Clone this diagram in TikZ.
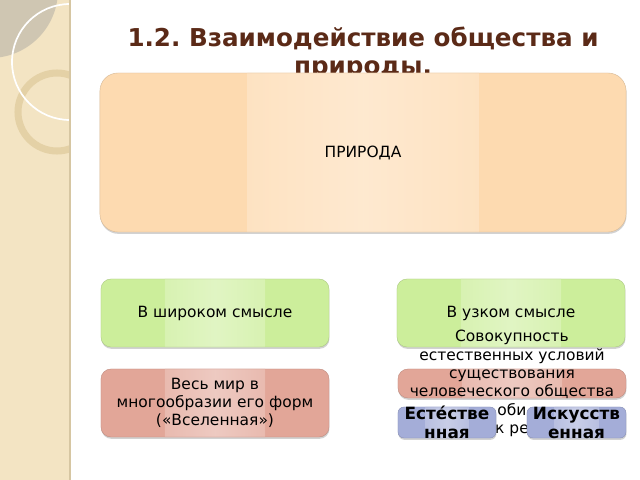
\documentclass[tikz,border=0pt]{standalone}
\usepackage{fontspec}
\setmainfont{DejaVu Sans}
\usetikzlibrary{shadows,calc}

\definecolor{stripc}{HTML}{F3E4C3}
\definecolor{striplc}{HTML}{D6C6A2}
\definecolor{greyc}{HTML}{CFC6B2}
\definecolor{ringc}{HTML}{E4D1A6}
\definecolor{titlec}{HTML}{5B2A17}
\definecolor{peachc}{HTML}{FDDAB0}
\definecolor{greenc}{HTML}{CCEE9B}
\definecolor{redc}{HTML}{E2A698}
\definecolor{bluec}{HTML}{A4ADD8}

\begin{document}
\frenchspacing
\begin{tikzpicture}[x=0.025cm, y=-0.025cm,
    box/.style={draw=#1!85!black, line width=0.3pt, fill=#1,
      rounded corners=0.25cm, minimum width=5.7cm, minimum height=1.7cm,
      inner sep=0pt, font=\fontsize{11}{13}\selectfont, align=center,
      drop shadow={shadow xshift=0.3pt, shadow yshift=-1.3pt, opacity=0.35},
      path picture={\shade[sharp corners, left color=#1, right color=#1, middle color=#1!60!white]
        ($(path picture bounding box.south west)!0.28!(path picture bounding box.south east)$)
        rectangle ($(path picture bounding box.north west)!0.72!(path picture bounding box.north east)$);}},
    boxtext/.style={font=\fontsize{11}{13}\selectfont, align=center, inner sep=0pt},
  ]
  \useasboundingbox (0,0) rectangle (640,480);
  \fill[white] (0,0) rectangle (640,480);

  % side strip
  \fill[stripc] (0,0) rectangle (70,480);
  \begin{scope}
    \clip (0,0) rectangle (70,480);
    \fill[greyc] (-10,-10) circle (68);
    \draw[ringc, line width=5pt] (57,112) circle (39);
    \draw[white, line width=1.2pt] (70,62) circle (58);
  \end{scope}
  \draw[striplc, line width=1pt] (70,0) -- (70,480);

  \node (title) [font=\fontsize{17.5}{20}\selectfont\bfseries, text=titlec, align=center] at (363,53)
    {1.2. Взаимодействие общества и\\природы.};

  \node (priroda) [box=peachc, rounded corners=0.45cm, minimum width=13.15cm, minimum height=3.975cm] at (363,152.5) {ПРИРОДА};

  \node (wide) [box=greenc] at (215,313) {В широком смысле};
  \node (narrow) [box=greenc] at (511,313) {В узком смысле};

  \node (world) [box=redc] at (215,403) {Весь мир в\\многообразии его форм\\(«Вселенная»)};
  \node (env) [box=redc, minimum height=0.725cm] at (512,383.5) {};
  \node (envtext) [boxtext] at (env) {Совокупность\\естественных условий\\существования\\человеческого общества\\оби\\к ре};

  \node (natural) [box=bluec, rounded corners=0.15cm, minimum width=2.45cm, minimum height=0.775cm] at (447,422.5) {};
  \node (naturaltext) [boxtext, font=\fontsize{12}{13.5}\selectfont\bfseries] at (natural) {Есте́стве\\нная};
  \node (artificial) [box=bluec, rounded corners=0.15cm, minimum width=2.475cm, minimum height=0.775cm] at (576.5,422.5) {};
  \node (artificialtext) [boxtext, font=\fontsize{12}{13.5}\selectfont\bfseries] at (artificial) {Искусств\\енная};
\end{tikzpicture}
\end{document}
